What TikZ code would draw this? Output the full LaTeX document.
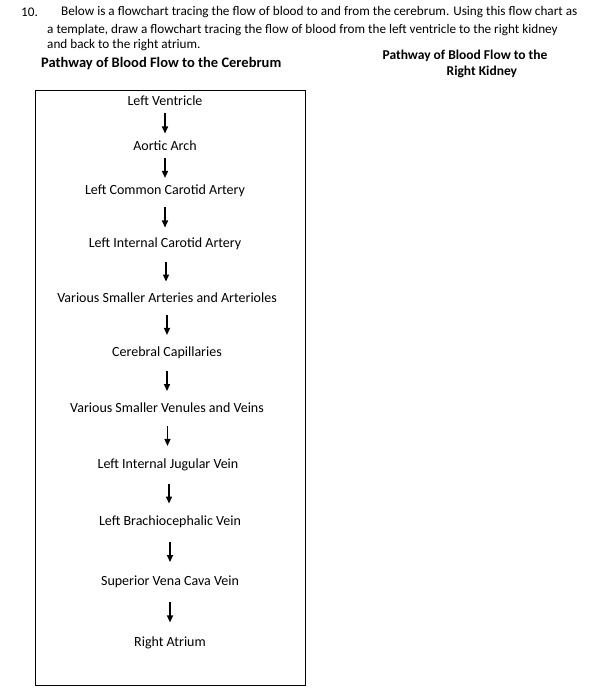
\documentclass[tikz,border=0pt]{standalone}
\usepackage{fontspec}
\setmainfont{Carlito}
\usetikzlibrary{arrows.meta,calc}
\begin{document}
\begin{tikzpicture}[x=1pt,y=-1pt,
  txt/.style={font=\fontsize{13.2}{15}\selectfont,inner sep=1pt},
  head/.style={font=\fontsize{13.5}{16}\selectfont\bfseries,inner sep=1pt},
  item/.style={font=\fontsize{14}{16}\selectfont,inner sep=3pt},
  flow/.style={-{Triangle[length=7pt,width=6pt]},line width=1.5pt}]
\useasboundingbox (0,0) rectangle (614,700);
\node[txt,anchor=west] (n10) at (20,12) {10.};
\node[txt,anchor=west] (l1) at (60,12) {Below is a flowchart tracing the flow of blood to and from the cerebrum. Using this flow chart as};
\node[txt,anchor=west] (l2) at (46,30) {a template, draw a flowchart tracing the flow of blood from the left ventricle to the right kidney};
\node[txt,anchor=west] (l3) at (46,45) {and back to the right atrium.};
\node[head,font=\fontsize{14.5}{17}\selectfont\bfseries,anchor=west] (h1) at (40,64) {Pathway of Blood Flow to the Cerebrum};
\node[head,align=center,anchor=north] (h2) at (465,49) {Pathway of Blood Flow to the\\\hspace*{2.5em}Right Kidney};
\node[draw,line width=1.2pt,minimum width=270,minimum height=595,anchor=north west] (box) at (35,90) {};
\node[item] (a1) at (165,101) {Left Ventricle};
\node[item] (a2) at (165,146) {Aortic Arch};
\node[item] (a3) at (165,191) {Left Common Carotid Artery};
\node[item] (a4) at (165,244) {Left Internal Carotid Artery};
\node[item] (a5) at (167,298) {Various Smaller Arteries and Arterioles};
\node[item] (a6) at (167,353) {Cerebral Capillaries};
\node[item] (a7) at (167,408) {Various Smaller Venules and Veins};
\node[item] (a8) at (168,465) {Left Internal Jugular Vein};
\node[item] (a9) at (170,522) {Left Brachiocephalic Vein};
\node[item] (a10) at (170,582) {Superior Vena Cava Vein};
\node[item] (a11) at (170,643) {Right Atrium};
\foreach \i/\j in {a1/a2,a2/a3,a3/a4,a4/a5,a5/a6,a6/a7,a7/a8,a8/a9,a9/a10,a10/a11}
  \draw[flow] ($(\i.south)!0.5!(\j.north)+(0,-10)$) -- ($(\i.south)!0.5!(\j.north)+(0,10)$);
\end{tikzpicture}
\end{document}
